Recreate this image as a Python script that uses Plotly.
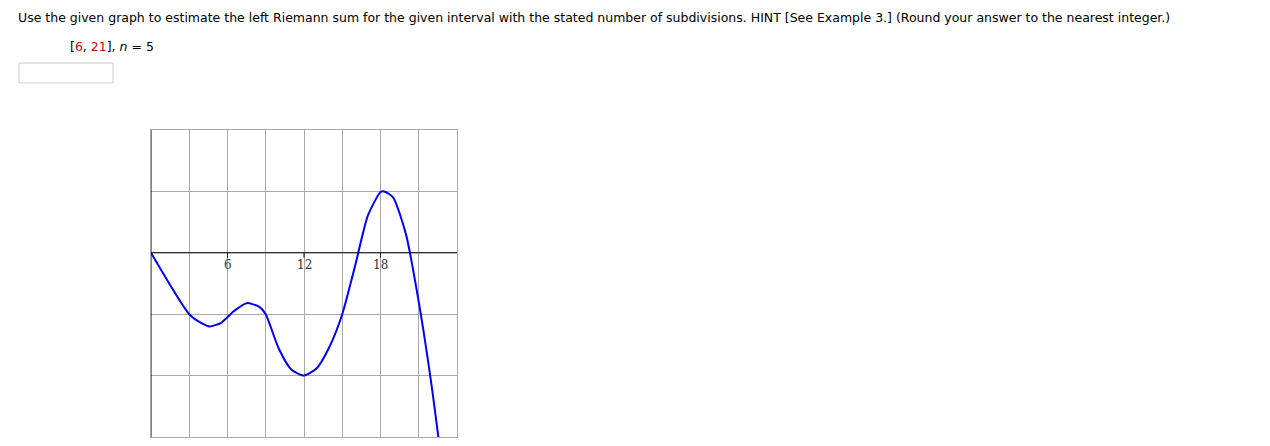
import plotly.graph_objects as go

curve_x = [0, 3, 4, 4.6, 5.5, 6.5, 7.5, 8.5, 9, 10, 11, 12, 13, 14, 15, 16, 17, 18, 18.3, 19, 20, 21, 22, 22.6]
curve_y = [0, -10, -11.5, -12, -11.4, -9.5, -8.2, -8.8, -10, -15.5, -19, -20, -18.8, -15.3, -10, -2.2, 6, 9.9, 10, 9, 3, -8, -21.5, -31]
xtick_vals = [6, 12, 18]
ytick_vals = [10, -10]

W, H = 1270, 446
fig = go.Figure()
fig.add_trace(go.Scatter(x=curve_x, y=curve_y, mode="lines",
                         line=dict(color="#0000ee", width=2, shape="spline", smoothing=0.6),
                         cliponaxis=False, hoverinfo="skip"))
fig.update_layout(
    width=W, height=H, margin=dict(l=0, r=0, t=0, b=0),
    paper_bgcolor="white", plot_bgcolor="white", showlegend=False,
    xaxis=dict(domain=[143/W, 449/W], range=[0, 24], dtick=3, tick0=0, showgrid=True,
               gridcolor="#aaaaaa", gridwidth=1, showticklabels=False, zeroline=False,
               showline=True, linecolor="#aaaaaa", mirror=True, ticks=""),
    yaxis=dict(domain=[1-429/H, 1-122/H], range=[-30, 20], dtick=10, tick0=0, showgrid=True,
               gridcolor="#aaaaaa", gridwidth=1, showticklabels=False, zeroline=False,
               showline=True, linecolor="#aaaaaa", mirror=True, ticks=""),
)
# axes
fig.add_shape(type="line", xref="x", yref="y", x0=0, x1=25.2, y0=0, y1=0, line=dict(color="black", width=1))
fig.add_shape(type="line", xref="x", yref="y", x0=0, x1=0, y0=-31, y1=21.2, line=dict(color="black", width=1))
for v in xtick_vals:
    fig.add_shape(type="line", xref="x", yref="y", x0=v, x1=v, y0=0, y1=-0.8, line=dict(color="black", width=1))
    fig.add_annotation(x=v, y=-0.6, xref="x", yref="y", text=str(v), showarrow=False, yanchor="top",
                       font=dict(family="DejaVu Serif", size=12, color="#333"))
for v in ytick_vals:
    fig.add_shape(type="line", xref="x", yref="y", x0=0, x1=-0.4, y0=v, y1=v, line=dict(color="black", width=1))
    fig.add_annotation(x=-0.5, y=v, xref="x", yref="y", text=str(v).replace("-", "\u2212"), showarrow=False,
                       xanchor="right", font=dict(family="DejaVu Serif", size=12, color="#333"))
fig.add_annotation(x=0, y=23.5, xref="x", yref="y", text="f", showarrow=False,
                   font=dict(family="DejaVu Serif", size=13, color="#333"))
fig.add_annotation(x=25.8, y=0, xref="x", yref="y", text="x", showarrow=False,
                   font=dict(family="DejaVu Serif", size=13, color="#333"))

sans = dict(family="DejaVu Sans", size=12.5, color="black")
fig.add_annotation(x=8/W, y=1-10/H, xref="paper", yref="paper", xanchor="left", yanchor="middle", showarrow=False,
                   text="Use the given graph to estimate the left Riemann sum for the given interval with the stated number of subdivisions. HINT [See Example 3.] (Round your answer to the nearest integer.)",
                   font=sans)
fig.add_annotation(x=60/W, y=1-38/H, xref="paper", yref="paper", xanchor="left", yanchor="middle", showarrow=False,
                   text="[<span style='color:#dd0000'>6</span>, <span style='color:#dd0000'>21</span>], <i>n</i> = 5",
                   font=sans)
fig.add_shape(type="rect", xref="paper", yref="paper", x0=11/W, x1=105/W, y0=1-75/H, y1=1-55/H,
              line=dict(color="#cccccc", width=1), fillcolor="white")
fig.write_html("out.html")
